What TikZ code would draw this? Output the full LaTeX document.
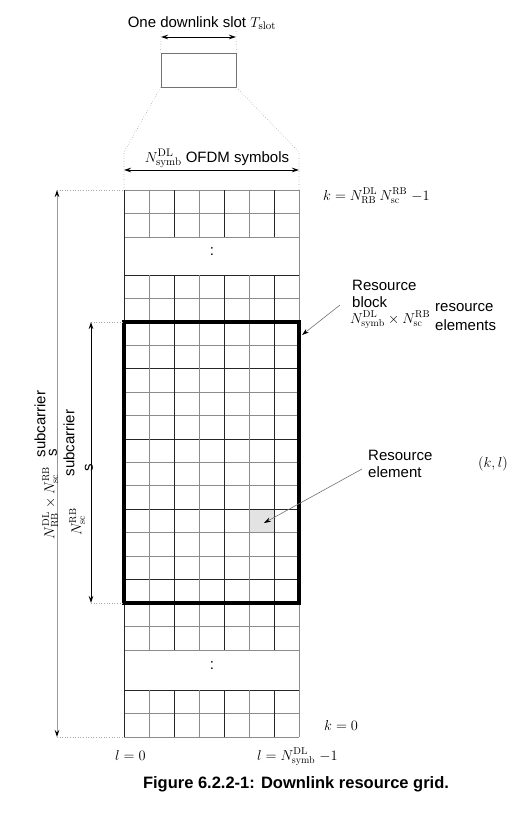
\documentclass[tikz,border=0pt]{standalone}
\usepackage[no-math]{fontspec}
\setmainfont{Liberation Sans}
\usetikzlibrary{arrows.meta}

\tikzset{
  lbl/.style={inner sep=0pt, font=\fontsize{15}{17}\selectfont},
  mathlbl/.style={inner sep=0pt, font=\fontsize{14}{16}\selectfont},
  thinline/.style={line width=0.9pt, black!45},
  darkline/.style={line width=0.9pt, black!85},
  rbline/.style={line width=3.6pt, black},
  guide/.style={line width=0.6pt, black!35, dotted},
  dimarrow/.style={line width=0.8pt, <->},
  pointer/.style={line width=0.6pt, black!55, ->},
}

\begin{document}
\begin{tikzpicture}[>={Stealth[length=7pt,width=4.5pt,color=black]}, x=1pt, y=-1pt]
\useasboundingbox (0,0) rectangle (522,817);

% 坐标
\path
  (124,190) coordinate (gridNW)
  (299,190) coordinate (gridNE)
  (124,737) coordinate (gridSW)
  (299,737) coordinate (gridSE)
  (124,322) coordinate (rbNW)
  (124,603) coordinate (rbSW)
  (299,603) coordinate (rbSE)
  (161,37) coordinate (slotL)
  (236,37) coordinate (slotR)
  (161,31) coordinate (slotLtop)
  (236,31) coordinate (slotRtop)
  (124,152) coordinate (fanL)
  (299,152) coordinate (fanR)
  (124,170) coordinate (ofdmL)
  (299,170) coordinate (ofdmR)
  (57,190) coordinate (outerT)
  (57,737) coordinate (outerB)
  (91,322) coordinate (innerT)
  (91,603) coordinate (innerB)
  (340,305) coordinate (rbFrom)
  (302,335) coordinate (rbTo)
  (362,469) coordinate (reFrom)
  (264,523) coordinate (reTo);

% 时隙
\node[draw=black!55, line width=0.8pt, minimum width=75pt, minimum height=34pt, inner sep=0pt] (slot) at (198.5,70) {};
\node[lbl, anchor=base] (slotlbl) at (202,27) {One downlink slot $T_{\mathrm{slot}}$};
\draw[guide] (slotLtop) -- (slot.north west);
\draw[guide] (slotRtop) -- (slot.north east);
\draw[dimarrow] (slotL) -- (slotR);
\draw[guide] (slot.south west) -- (fanL) -- (gridNW);
\draw[guide] (slot.south east) -- (fanR) -- (gridNE);
\node[lbl, anchor=base] (ofdmlbl) at (217,162) {$N^{\mathrm{DL}}_{\mathrm{symb}}$ OFDM symbols};
\draw[dimarrow] (ofdmL) -- (ofdmR);

% 网格
\fill[gray!22] (249,509.2) rectangle (274,532.6);
\foreach \y in {190,213.5,237,298.5,603,626.5,650,713.5,737}
  \draw[thinline] (124,\y) -- (299,\y);
\foreach \y in {275,690}
  \draw[darkline] (124,\y) -- (299,\y);
\foreach \i in {1,3,4,6,7,9,10}
  \draw[thinline] (124,{322+23.4*\i}) -- (299,{322+23.4*\i});
\foreach \i in {2,5,8,11}
  \draw[darkline] (124,{322+23.4*\i}) -- (299,{322+23.4*\i});
\foreach \x/\s in {149/thinline,174/darkline,199/thinline,224/darkline,249/thinline,274/darkline} {
  \draw[\s] (\x,190) -- (\x,237);
  \draw[\s] (\x,275) -- (\x,650);
  \draw[\s] (\x,690) -- (\x,737);
}
\draw[darkline] (gridNW) -- (gridSW);
\draw[thinline] (gridNE) -- (gridSE);
\draw[rbline] (rbNW) rectangle (rbSE);
\node[lbl] (dotsTop) at (212,252) {:};
\node[lbl] (dotsBot) at (212,666) {:};

% 左侧箭头
\draw[guide] (outerT) -- (gridNW);
\draw[guide] (outerB) -- (gridSW);
\draw[dimarrow, black!40] (outerT) -- (outerB);
\draw[guide] (innerT) -- (rbNW);
\draw[guide] (innerB) -- (rbSW);
\draw[dimarrow] (innerT) -- (innerB);
\node[lbl, rotate=90] (outerword) at (40,424) {subcarrier};
\node[lbl, rotate=90] (outers) at (53,453) {s};
\node[mathlbl, rotate=90] (outermath) at (50,503) {$N^{\mathrm{DL}}_{\mathrm{RB}}\times N^{\mathrm{RB}}_{\mathrm{sc}}$};
\node[lbl, rotate=90] (innerword) at (69,443) {subcarrier};
\node[mathlbl, rotate=90] (innermath) at (77,522) {$N^{\mathrm{RB}}_{\mathrm{sc}}$};
\node[lbl, rotate=90] (inners) at (89,468) {s};

% 右侧标注
\node[mathlbl, anchor=base west] (ktop) at (323,200) {$k = N^{\mathrm{DL}}_{\mathrm{RB}}\,N^{\mathrm{RB}}_{\mathrm{sc}}\;{-1}$};
\node[lbl, anchor=north west, align=left] (rblbl) at (352,280) {Resource\\block};
\node[mathlbl, anchor=base west] (rbmath) at (350,323) {$N^{\mathrm{DL}}_{\mathrm{symb}}\times N^{\mathrm{RB}}_{\mathrm{sc}}$};
\node[lbl, anchor=north west, align=left, font=\fontsize{15}{19}\selectfont] (rbelem) at (435,303) {resource\\elements};
\draw[pointer] (rbFrom) -- (rbTo);
\node[lbl, anchor=north west, align=left] (relbl) at (368,449.5) {Resource\\element};
\node[mathlbl, anchor=base west] (kl) at (478,467) {$(k,l)$};
\draw[pointer] (reFrom) -- (reTo);
\node[mathlbl, anchor=base west] (kzero) at (324,730) {$k = 0$};

% 底部
\node[mathlbl, anchor=base west] (lzero) at (115,760) {$l = 0$};
\node[mathlbl, anchor=base west] (llast) at (257,760) {$l = N^{\mathrm{DL}}_{\mathrm{symb}}\;{-1}$};
\node[inner sep=0pt, font=\fontsize{16.5}{19}\selectfont\bfseries, anchor=base] (caption) at (296,788) {Figure 6.2.2-1: Downlink resource grid.};
\end{tikzpicture}
\end{document}
